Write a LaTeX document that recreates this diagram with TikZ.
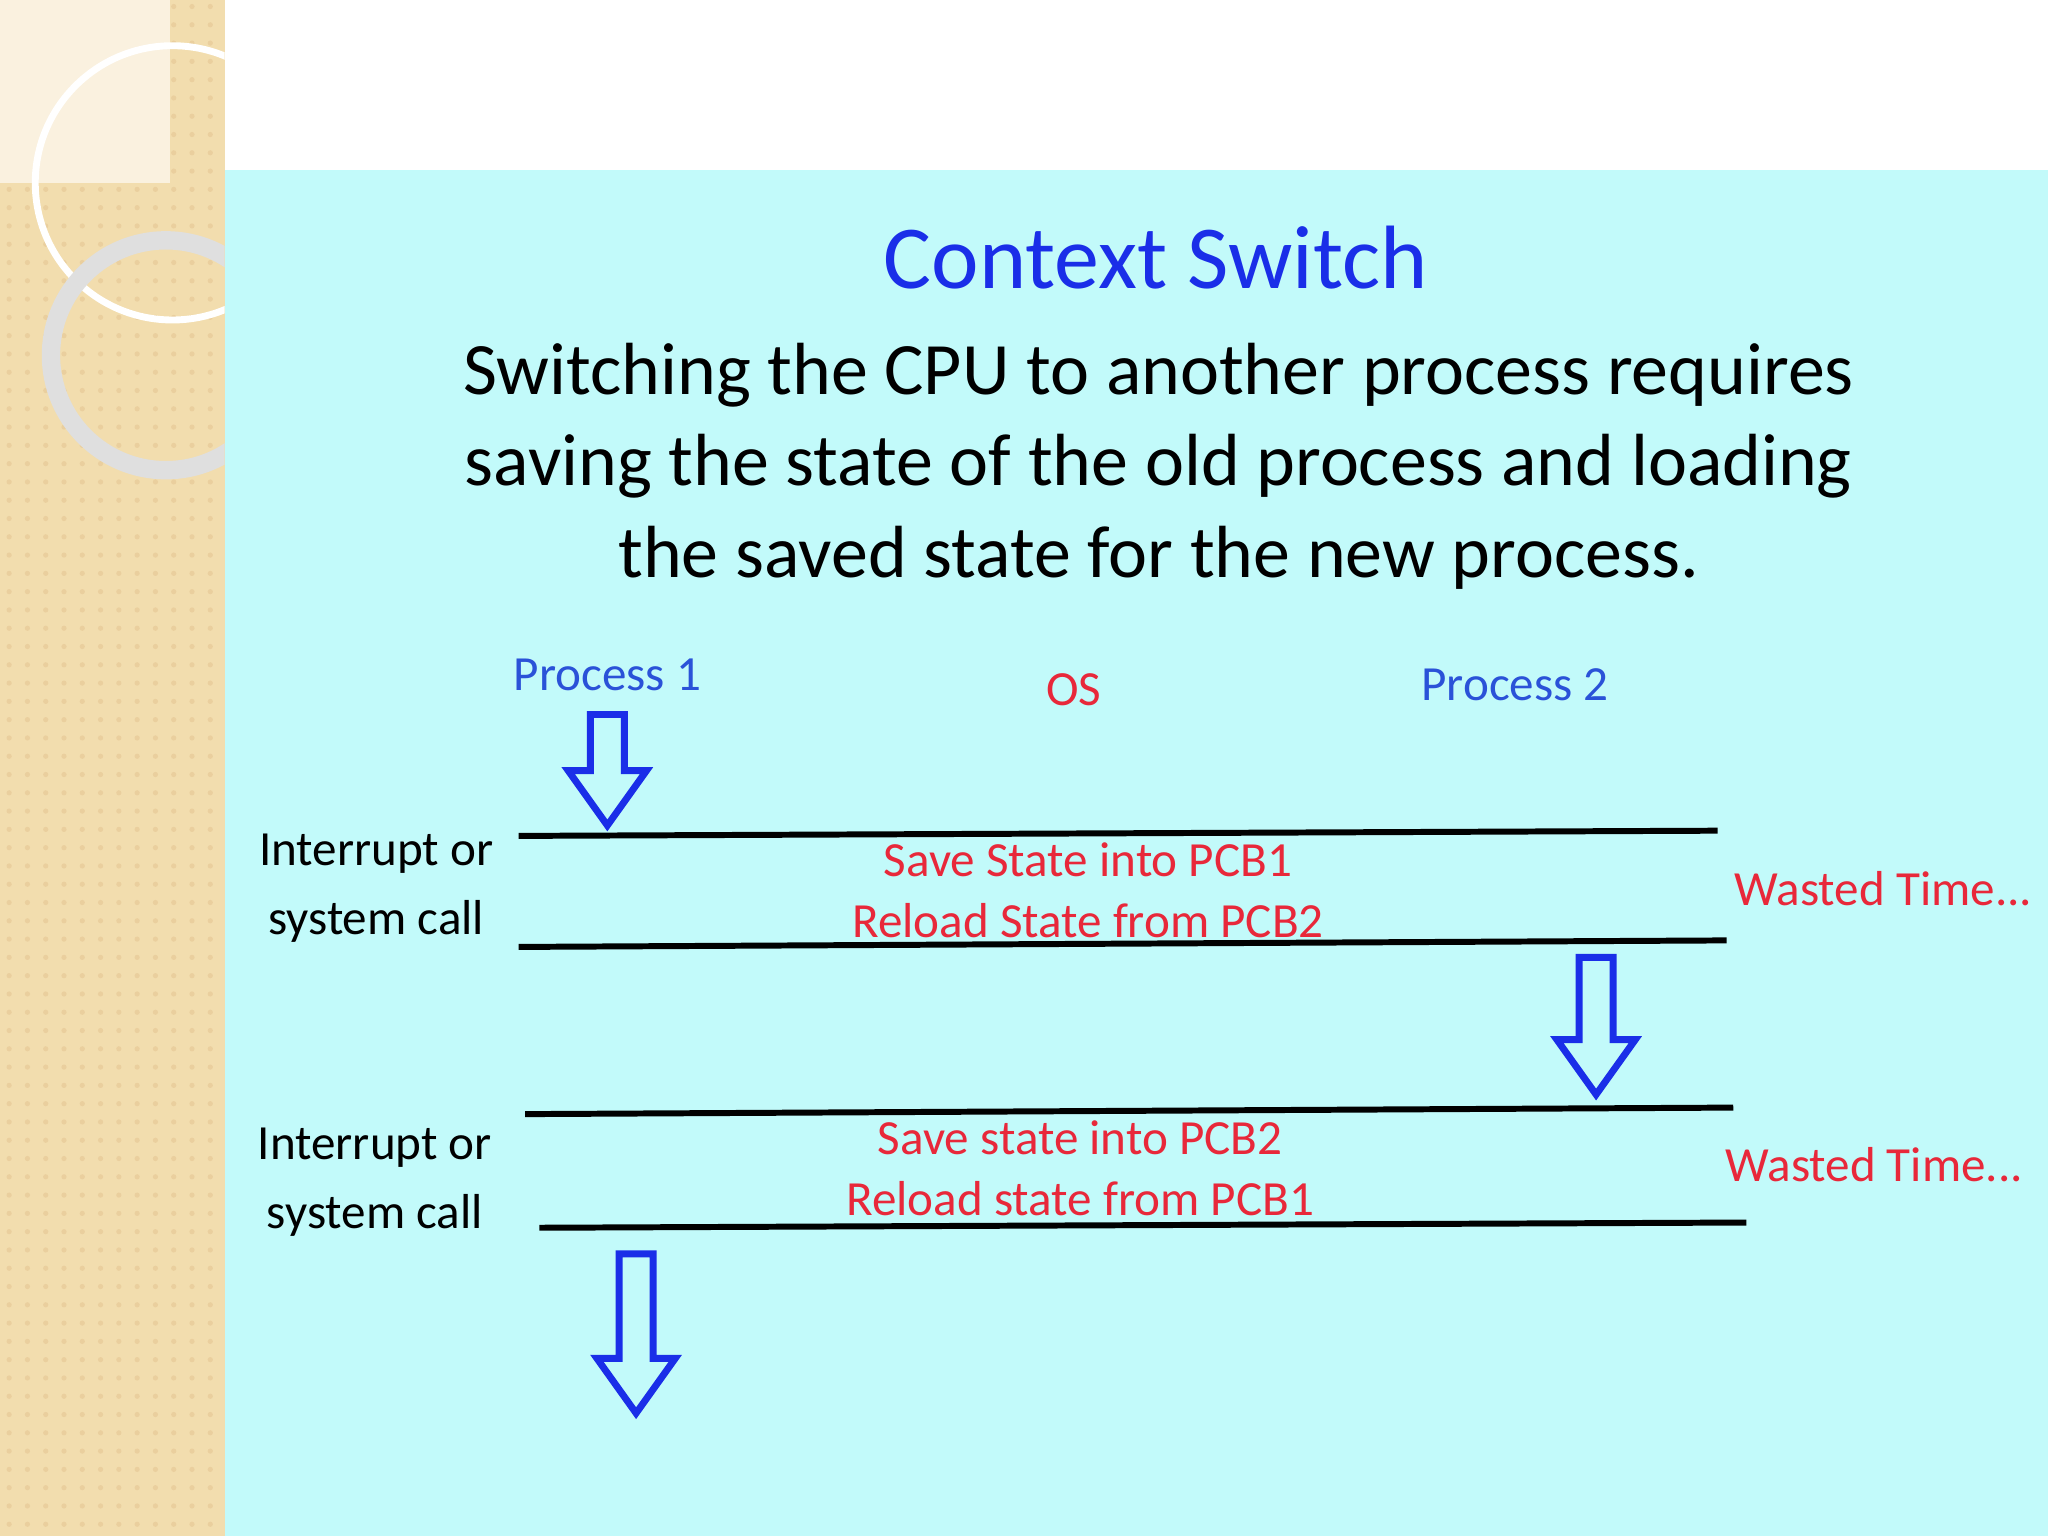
\documentclass[tikz,border=0pt]{standalone}
\usepackage{fontspec}
\setmainfont{Carlito}
\definecolor{panel}{HTML}{C2FAFA}
\definecolor{beige}{HTML}{F2DDAE}
\definecolor{tblue}{HTML}{1A2EE8}
\definecolor{lblue}{HTML}{2A52D8}
\definecolor{tred}{HTML}{E8283A}
\tikzset{
 lbl/.style={font=\fontsize{10.7}{12.5}\selectfont},
 red/.style={lbl,text=tred},
 tl/.style={line width=1.3pt},
 barrow/.style={draw=tblue,line width=1.5pt,fill=panel}
}
\newcommand{\darrow}[3]{% x, ytop, ybottom
 \draw[barrow] (#1-0.13,-#2) -- (#1+0.13,-#2) -- (#1+0.13,-#3+0.42) -- (#1+0.3,-#3+0.42) -- (#1,-#3) -- (#1-0.3,-#3+0.42) -- (#1-0.13,-#3+0.42) -- cycle;}
\begin{document}
\begin{tikzpicture}
\useasboundingbox (0,0) rectangle (15.68,-11.76);
\fill[white] (0,0) rectangle (15.68,-11.76);
\fill[beige] (0,0) rectangle (1.72,-11.76);
\foreach \i in {0,...,84}{\foreach \j in {0,...,11}{\fill[beige!85!brown] (0.07+0.14*\j,-0.05-0.14*\i) circle (0.02);}}
\fill[beige!40!white] (0,0) rectangle (1.3,-1.4);
\fill[panel] (1.72,-1.3) rectangle (15.68,-11.76);
\begin{scope}
\clip (0,0) rectangle (1.72,-11.76);
\draw[white,line width=1.5pt] (1.32,-1.4) circle (1.05);
\draw[gray!25,line width=4pt] (1.27,-2.72) circle (0.88);
\end{scope}
\node (title) at (8.85,-1.97) {\fontsize{19.6}{22}\selectfont\color{tblue}Context Switch};
\node[align=center,font=\fontsize{16.1}{20}\selectfont] (body) at (8.87,-3.57) {Switching the CPU to another process requires\\saving the state of the old process and loading\\the saved state for the new process.};
\node[lbl,text=lblue] (p1) at (4.65,-5.17) {Process 1};
\node[lbl,text=tred] (os) at (8.22,-5.28) {OS};
\node[lbl,text=lblue] (p2) at (11.6,-5.24) {Process 2};
\coordinate (a1) at (3.97,-6.40); \coordinate (b1) at (13.15,-6.36);
\coordinate (a2) at (3.97,-7.25); \coordinate (b2) at (13.22,-7.20);
\coordinate (a3) at (4.02,-8.53); \coordinate (b3) at (13.27,-8.48);
\coordinate (a4) at (4.13,-9.40); \coordinate (b4) at (13.37,-9.36);
\draw[tl] (a1)--(b1); \draw[tl] (a2)--(b2); \draw[tl] (a3)--(b3); \draw[tl] (a4)--(b4);
\node[lbl,align=center,font=\fontsize{10.7}{15}\selectfont] (i1) at (2.88,-6.8) {Interrupt or\\system call};
\node[lbl,align=center,font=\fontsize{10.7}{15}\selectfont] (i2) at (2.87,-9.05) {Interrupt or\\system call};
\node[red] (s1) at (8.33,-6.58) {Save State into PCB1};
\node[red] (r1) at (8.33,-7.05) {Reload State from PCB2};
\node[red] (s2) at (8.27,-8.71) {Save state into PCB2};
\node[red] (r2) at (8.27,-9.18) {Reload state from PCB1};
\node[red] (w1) at (14.42,-6.8) {Wasted Time...};
\node[red] (w2) at (14.35,-8.92) {Wasted Time...};
\darrow{4.65}{5.47}{6.32}
\darrow{12.22}{7.33}{8.38}
\darrow{4.87}{9.60}{10.82}
\end{tikzpicture}
\end{document}
